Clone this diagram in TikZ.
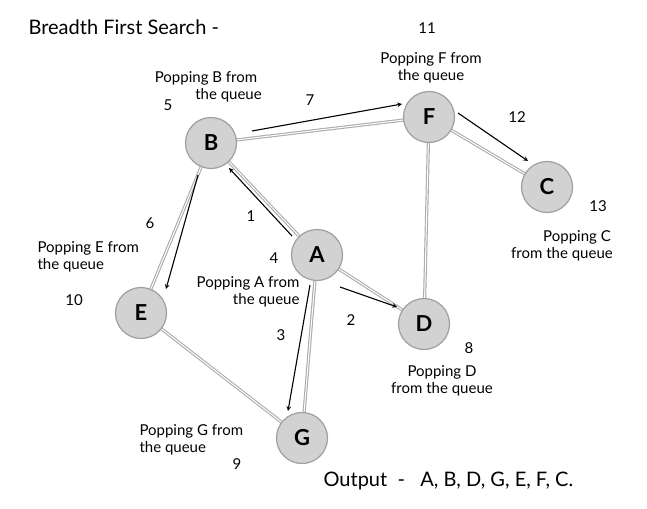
\documentclass[tikz,border=0pt]{standalone}
\usepackage{fontspec}
\setmainfont{Lato}
\usetikzlibrary{backgrounds}
\begin{document}
\begin{tikzpicture}[x=1pt,y=-1pt,
 nd/.style={circle,draw=gray!75,line width=1.2pt,fill=gray!35,minimum size=51pt,inner sep=0pt,font=\fontsize{22}{22}\selectfont\bfseries},
 ar/.style={->,>=stealth,line width=1.1pt},
 lb/.style={font=\fontsize{15}{17}\selectfont,align=center}]
\useasboundingbox (0,0) rectangle (647,508);
\node (B) [nd] at (211,143) {B};
\node (F) [nd] at (429,117) {F};
\node (C) [nd] at (547,187) {C};
\node (A) [nd] at (317,255) {A};
\node (D) [nd] at (424,324) {D};
\node (E) [nd] at (141,313) {E};
\node (G) [nd] at (302,438) {G};
\begin{pgfonlayer}{background}
\foreach \a/\b in {A/B,B/F,F/C,A/D,A/G,B/E,F/D,E/G}
  \draw[gray!65,line width=3.2pt] (\a.center) -- (\b.center);
\foreach \a/\b in {A/B,B/F,F/C,A/D,A/G,B/E,F/D,E/G}
  \draw[white,line width=1pt] (\a.center) -- (\b.center);
\end{pgfonlayer}
\coordinate (a1) at (292,236); \coordinate (b1) at (229,168);
\coordinate (a7) at (252,131); \coordinate (b7) at (402,104);
\coordinate (a2) at (340,287); \coordinate (b2) at (397,307);
\coordinate (a3) at (310,285); \coordinate (b3) at (288,411);
\coordinate (a6) at (198,175); \coordinate (b6) at (166,289);
\coordinate (a12) at (458,113); \coordinate (b12) at (528,161);
\foreach \n in {1,7,2,3,6,12} \draw[ar] (a\n) -- (b\n);
\node (t) [anchor=west,font=\fontsize{20}{20}\selectfont] at (25,27) {Breadth First Search -};
\node (n11) [lb] at (427,28) {11};
\node (n7) [lb] at (310,100) {7};
\node (n5) [lb] at (168,105) {5};
\node (n12) [lb] at (517,117) {12};
\node (n13) [lb] at (598,206) {13};
\node (n6) [lb] at (150,223) {6};
\node (n1) [lb] at (251,216) {1};
\node (n4) [lb] at (274,258) {4};
\node (n2) [lb] at (351,320) {2};
\node (n3) [lb] at (281,335) {3};
\node (n8) [lb] at (469,348) {8};
\node (n10) [lb] at (74,300) {10};
\node (n9) [lb] at (237,464) {9};
\node (pB) [lb] at (206,87) {Popping B from\\\hspace*{3em}the queue};
\node (pF) [lb] at (431,68) {Popping F from\\the queue};
\node (pC) [lb] at (562,246) {\hspace*{2em}Popping C\\from the queue};
\node (pE) [lb,align=left,anchor=west] at (34,257) {Popping E from\\the queue};
\node (pA) [lb,align=right,anchor=east] at (303,292) {Popping A from\\the queue};
\node (pD) [lb] at (442,381) {Popping D\\from the queue};
\node (pG) [lb,align=left,anchor=west] at (136,440) {Popping G from\\the queue};
\node (out) [anchor=west,font=\fontsize{20}{20}\selectfont] at (320,481) {Output \ - \ \ A, B, D, G, E, F, C.};
\end{tikzpicture}
\end{document}
